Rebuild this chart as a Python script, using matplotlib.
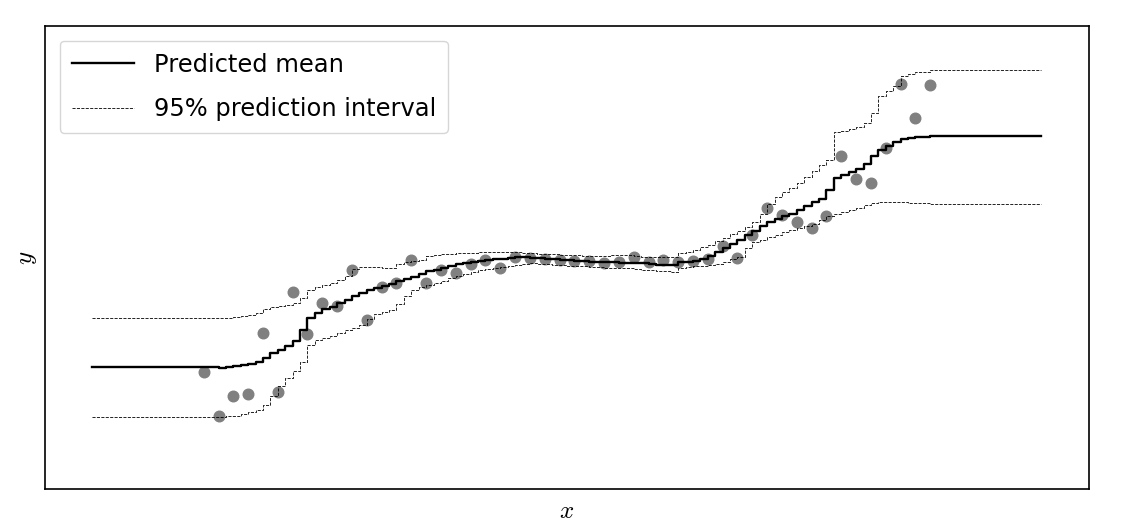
import matplotlib
matplotlib.use("Agg")
import matplotlib.pyplot as plt
import numpy as np

plt.rcParams['mathtext.fontset'] = 'cm'

# observed data (evenly spaced x)
x_obs = np.arange(50)
y_obs = [-1.12, -1.56, -1.36, -1.34, -0.73, -1.32, -0.32, -0.74, -0.43, -0.46,
         -0.10, -0.60, -0.27, -0.23, 0.00, -0.23, -0.10, -0.13, -0.04, 0.00,
         -0.08, 0.03, 0.02, 0.01, 0.00, -0.01, -0.01, -0.03, -0.02, 0.03,
         -0.02, 0.00, -0.02, -0.01, 0.01, 0.14, 0.02, 0.25, 0.52, 0.45,
         0.38, 0.32, 0.44, 1.04, 0.81, 0.77, 1.12, 1.76, 1.42, 1.75]

# step edges of the prediction grid
x_edges = np.concatenate([[-7.5], np.arange(0, 49.5, 0.5), [56.5]])

mean_pred = [-1.07, -1.07, -1.07, -1.08, -1.07, -1.06, -1.05, -1.04, -1.02, -0.98,
             -0.93, -0.90, -0.86, -0.81, -0.70, -0.58, -0.53, -0.49, -0.47, -0.43,
             -0.40, -0.36, -0.33, -0.30, -0.28, -0.26, -0.24, -0.21, -0.19, -0.17,
             -0.14, -0.11, -0.10, -0.08, -0.06, -0.04, -0.03, -0.02, -0.01, 0.00,
             0.01, 0.01, 0.02, 0.03, 0.03, 0.02, 0.02, 0.01, 0.01, 0.00,
             0.00, -0.01, -0.01, -0.02, -0.02, -0.02, -0.02, -0.03, -0.03, -0.03,
             -0.03, -0.04, -0.05, -0.05, -0.05, -0.02, -0.02, -0.01, 0.01, 0.04,
             0.08, 0.12, 0.16, 0.20, 0.25, 0.29, 0.34, 0.38, 0.41, 0.44,
             0.46, 0.50, 0.54, 0.58, 0.61, 0.70, 0.82, 0.85, 0.88, 0.91,
             0.96, 1.04, 1.10, 1.14, 1.18, 1.21, 1.22, 1.23, 1.23, 1.24]

upper_pi = [-0.58, -0.58, -0.58, -0.58, -0.58, -0.57, -0.56, -0.55, -0.53, -0.49,
            -0.47, -0.46, -0.45, -0.43, -0.38, -0.30, -0.27, -0.25, -0.23, -0.20,
            -0.16, -0.09, -0.07, -0.07, -0.07, -0.08, -0.08, -0.04, -0.02, -0.01,
            0.00, 0.04, 0.05, 0.06, 0.06, 0.07, 0.07, 0.07, 0.08, 0.08,
            0.08, 0.08, 0.08, 0.08, 0.07, 0.07, 0.06, 0.06, 0.06, 0.05,
            0.05, 0.05, 0.04, 0.04, 0.04, 0.04, 0.05, 0.05, 0.05, 0.04,
            0.03, 0.03, 0.03, 0.03, 0.03, 0.07, 0.08, 0.10, 0.13, 0.15,
            0.19, 0.22, 0.26, 0.29, 0.33, 0.38, 0.46, 0.56, 0.63, 0.68,
            0.72, 0.77, 0.83, 0.89, 0.95, 1.00, 1.28, 1.29, 1.31, 1.33,
            1.37, 1.47, 1.64, 1.69, 1.74, 1.84, 1.86, 1.88, 1.88, 1.90]

lower_pi = [-1.57, -1.57, -1.57, -1.57, -1.56, -1.56, -1.54, -1.52, -1.50, -1.45,
            -1.36, -1.26, -1.18, -1.11, -1.02, -0.85, -0.80, -0.78, -0.76, -0.73,
            -0.70, -0.68, -0.65, -0.59, -0.54, -0.52, -0.50, -0.44, -0.36, -0.30,
            -0.27, -0.25, -0.23, -0.21, -0.18, -0.16, -0.14, -0.12, -0.10, -0.09,
            -0.08, -0.07, -0.06, -0.05, -0.04, -0.03, -0.04, -0.04, -0.05, -0.05,
            -0.06, -0.06, -0.06, -0.07, -0.07, -0.08, -0.08, -0.08, -0.08, -0.09,
            -0.10, -0.10, -0.11, -0.11, -0.12, -0.08, -0.07, -0.06, -0.06, -0.05,
            -0.04, -0.02, 0.01, 0.03, 0.12, 0.18, 0.20, 0.23, 0.25, 0.28,
            0.30, 0.32, 0.34, 0.36, 0.40, 0.44, 0.46, 0.48, 0.50, 0.52,
            0.55, 0.57, 0.58, 0.58, 0.58, 0.58, 0.57, 0.57, 0.57, 0.56]


def close_steps(vals):
    # repeat last value so the final segment is drawn with steps-post
    return np.append(vals, vals[-1])


fig = plt.figure(figsize=(11.31, 5.31), dpi=100)
ax = fig.add_axes([0.0398, 0.079, 0.923, 0.872])

ax.scatter(x_obs, y_obs, s=58, color='gray', zorder=1)
ax.step(x_edges, close_steps(mean_pred), where='post', color='black', lw=1.7,
        label='Predicted mean', zorder=2)
ax.step(x_edges, close_steps(upper_pi), where='post', color='black', lw=0.6,
        linestyle='--', label='95% prediction interval', zorder=2)
ax.step(x_edges, close_steps(lower_pi), where='post', color='black', lw=0.6,
        linestyle='--', zorder=2)

ax.set_ylim(-2.29, 2.34)
ax.set_xticks([])
ax.set_yticks([])
for sp in ax.spines.values():
    sp.set_linewidth(1.2)
ax.set_xlabel('$x$', fontsize=18, labelpad=7)
ax.set_ylabel('$y$', fontsize=18, labelpad=4)
ax.legend(loc='upper left', fontsize=17.4, handlelength=2.6,
          labelspacing=0.85, borderaxespad=0.6, borderpad=0.5)

fig.savefig('out.png', dpi=100)
